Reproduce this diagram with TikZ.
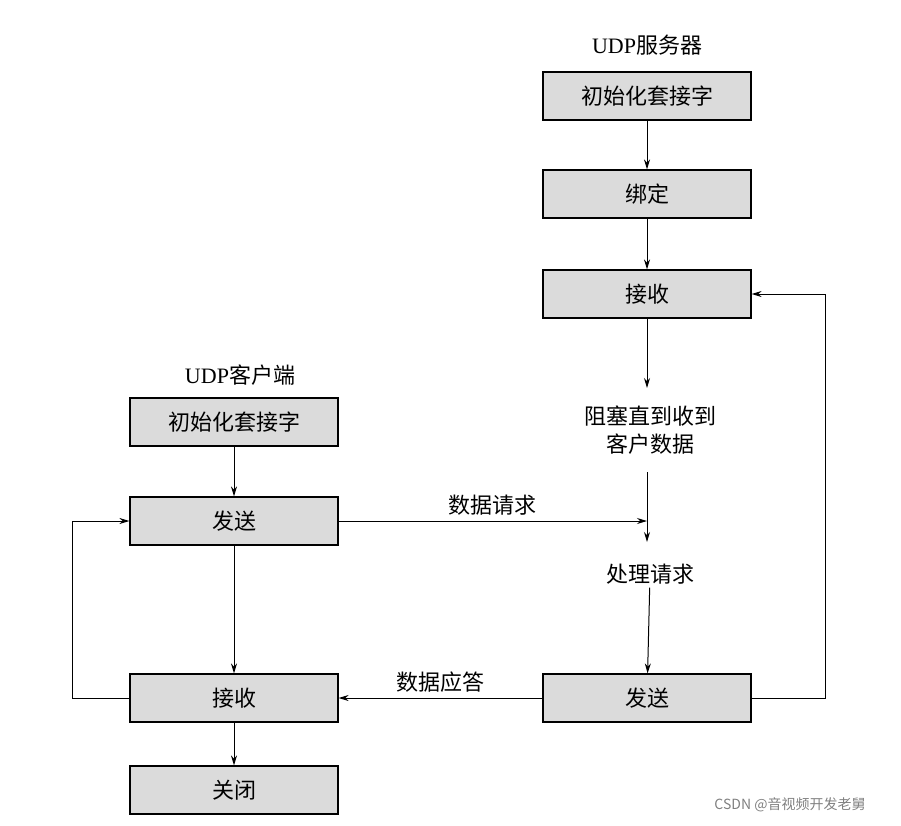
\documentclass[tikz,border=0pt]{standalone}
\usepackage{fontspec}
\newfontfamily\cjk{Noto Sans CJK SC}
\setmainfont{Liberation Serif}
\usetikzlibrary{arrows.meta}
\begin{document}
\begin{tikzpicture}[x=1pt,y=-1pt,
 box/.style={draw,line width=1.2pt,fill=gray!28,minimum width=208pt,minimum height=48pt,inner sep=0pt,font=\fontsize{22}{26}\selectfont\cjk},
 lbl/.style={font=\fontsize{22}{28}\selectfont\cjk,align=center},
 arr/.style={-{Stealth[length=10pt,width=6pt]},line width=1pt}]
\useasboundingbox (0,0) rectangle (901,825);
\node[font=\fontsize{22}{26}\selectfont] (st) at (647,45) {UDP{\cjk 服务器}};
\node[box] (si) at (647,96) {初始化套接字};
\node[box] (sb) at (647,194) {绑定};
\node[box] (sr) at (647,294) {接收};
\node[lbl] (blk) at (650,430) {阻塞直到收到\\客户数据};
\node[lbl] (proc) at (650,574) {处理请求};
\node[box] (ss) at (647,698) {发送};
\node[font=\fontsize{22}{26}\selectfont] (ct) at (240,375) {UDP{\cjk 客户端}};
\node[box] (ci) at (234,422) {初始化套接字};
\node[box] (cs) at (234,521) {发送};
\node[box] (cr) at (234,698) {接收};
\node[box] (cc) at (234,790) {关闭};
\coordinate (j) at (647,521);
\draw[arr] (si) -- (sb);
\draw[arr] (sb) -- (sr);
\draw[arr] (sr) -- (647,388);
\draw[line width=1pt] (647,472) -- (j);
\draw[arr] (j) -- (647,542);
\draw[arr] (cs.east) -- node[lbl,above=2pt] {数据请求} (j);
\draw[arr] (proc) -- (ss);
\draw[arr] (ss.east) -- (825,698) -- (825,294) -- (sr.east);
\draw[arr] (ci) -- (cs);
\draw[arr] (cs) -- (cr);
\draw[arr] (cr) -- (cc);
\draw[arr] (cr.west) -- (72,698) -- (72,521) -- (cs.west);
\draw[arr] (ss.west) -- node[lbl,above=2pt] {数据应答} (cr.east);
\node[font=\fontsize{14}{16}\selectfont\cjk,text=gray] (wm) at (790,805) {CSDN @音视频开发老舅};
\end{tikzpicture}
\end{document}
